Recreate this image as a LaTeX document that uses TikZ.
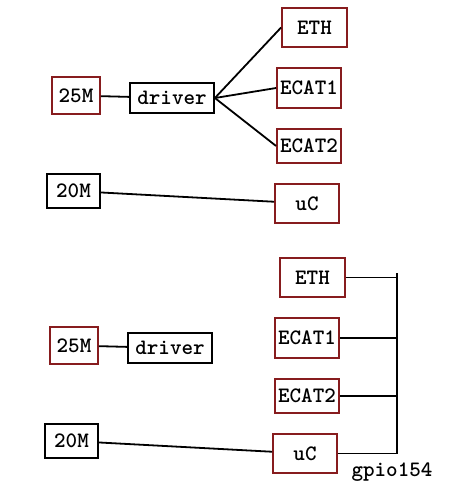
\documentclass[tikz,border=0pt]{standalone}
\usepackage{xcolor}

\definecolor{boxred}{RGB}{135,28,30}

\tikzset{
    blk/.style={draw, line width=1.8pt, inner sep=0pt, font=\ttfamily\bfseries\fontsize{22}{26}\selectfont},
    redblk/.style={blk, draw=boxred},
    wire/.style={line width=1.8pt}
}

\begin{document}
\begin{tikzpicture}[x=1pt, y=-1pt]
    \useasboundingbox (0,0) rectangle (474,491);

    % Boxes, drawn twice (the lower copy shifted down)
    \foreach \p/\dx/\dy in {t/0/0, b/-2/250} {
        \begin{scope}[shift={(\dx,\dy)}]
            \node[redblk, minimum width=48pt, minimum height=37pt] (clk25\p) at (76,95.5) {25M};
            \node[blk, minimum width=84pt, minimum height=30pt] (drv\p) at (172,98) {driver};
            \node[blk, minimum width=53pt, minimum height=34pt] (clk20\p) at (73.5,191) {20M};
            \node[redblk, minimum width=65pt, minimum height=39pt] (eth\p) at (314.5,27.5) {ETH};
            \node[redblk, minimum width=64pt, minimum height=40pt] (ecatA\p) at (309,88) {ECAT1};
            \node[redblk, minimum width=64pt, minimum height=34pt] (ecatB\p) at (309,146) {ECAT2};
            \node[redblk, minimum width=64pt, minimum height=39pt] (uc\p) at (307,203.5) {uC};
        \end{scope}
    }

    % Upper board: driver fans out
    \draw[wire] (clk25t) -- (drvt);
    \foreach \n in {etht, ecatAt, ecatBt}
        \draw[wire] (drvt.east) -- (\n.west);
    \draw[wire] (clk20t) -- (uct);

    % Lower board: common gpio line
    \draw[wire] (clk25b) -- (drvb);
    \draw[wire] (clk20b) -- (ucb);
    \coordinate (bustop) at (397,273);
    \coordinate (busbot) at (397,454);
    \draw[wire] (bustop) -- (busbot);
    \foreach \n in {ethb, ecatAb, ecatBb, ucb}
        \draw[wire] (\n.east) -- (\n.east -| bustop);
    \node[font=\ttfamily\bfseries\fontsize{22}{26}\selectfont] (gpio) at (392,472) {gpio154};
\end{tikzpicture}
\end{document}
